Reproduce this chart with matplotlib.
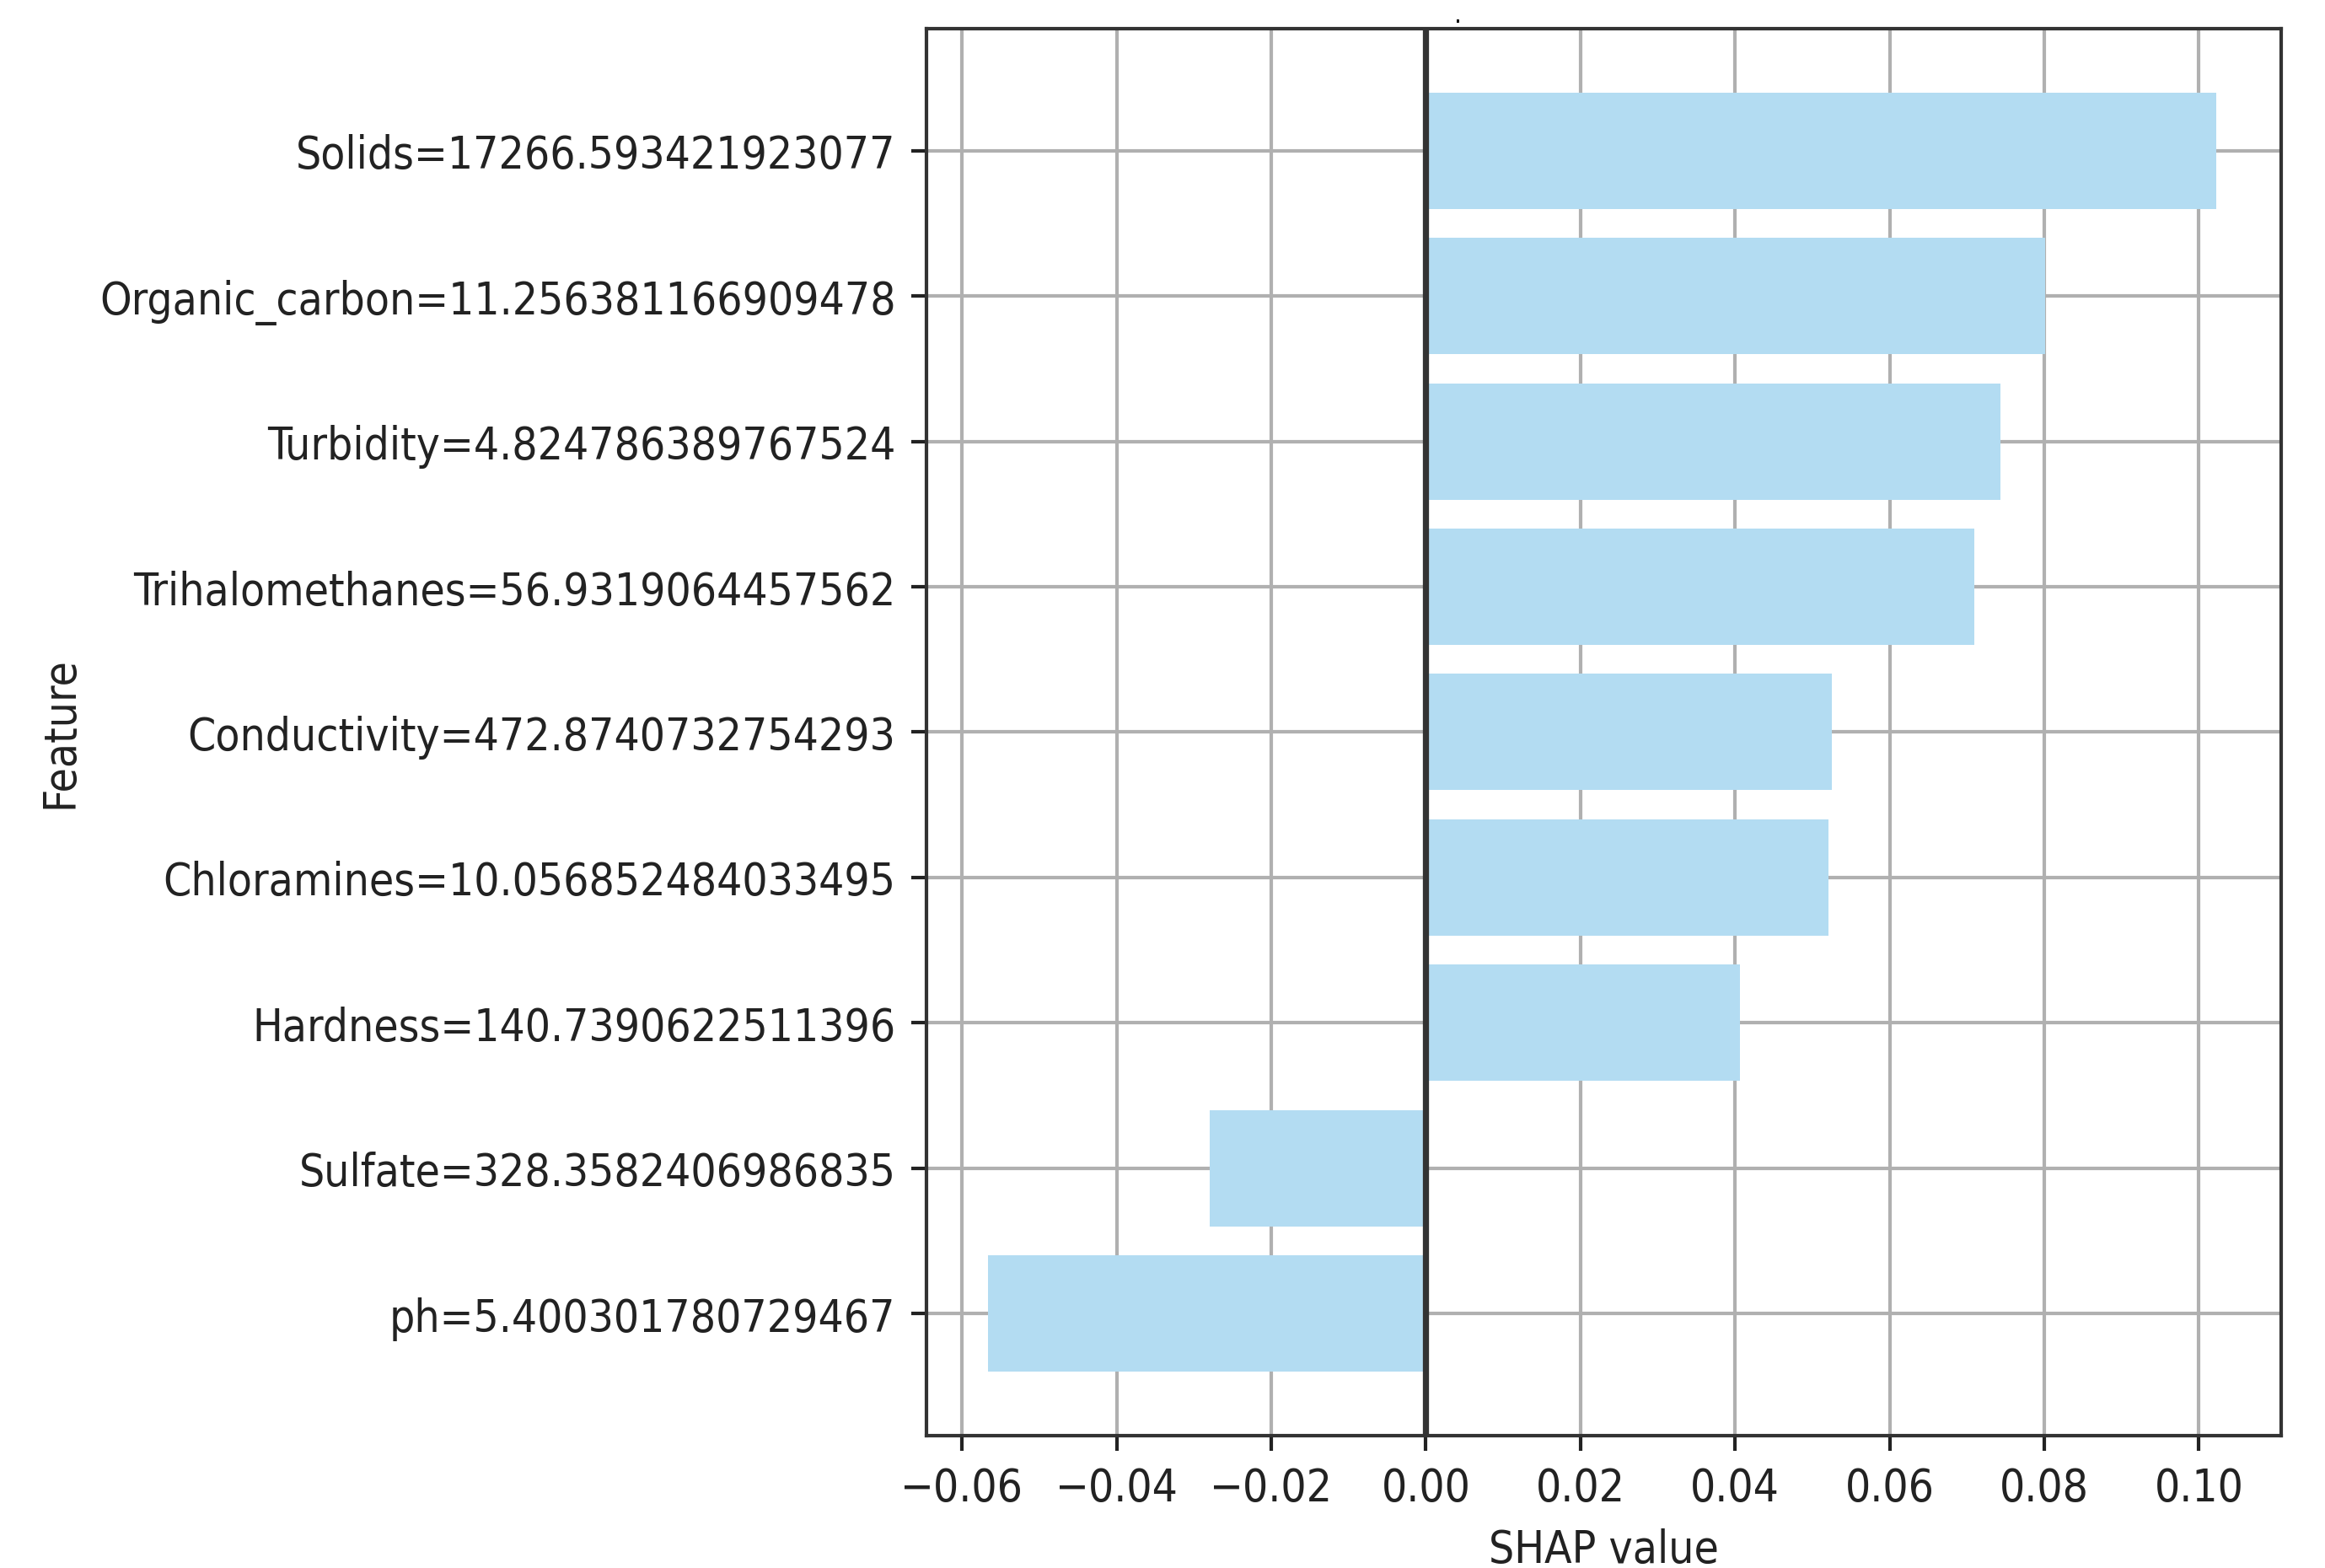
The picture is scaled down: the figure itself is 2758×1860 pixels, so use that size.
import matplotlib
matplotlib.use("Agg")
import matplotlib.pyplot as plt
from matplotlib import font_manager

features = [
    "Solids=17266.593421923077",
    "Organic_carbon=11.256381166909478",
    "Turbidity=4.824786389767524",
    "Trihalomethanes=56.9319064457562",
    "Conductivity=472.8740732754293",
    "Chloramines=10.056852484033495",
    "Hardness=140.7390622511396",
    "Sulfate=328.3582406986835",
    "ph=5.400301780729467",
]
shap_values = [0.1022, 0.0801, 0.0743, 0.0709, 0.0525, 0.0521, 0.0406, -0.0280, -0.0567]
xticks = [-0.06, -0.04, -0.02, 0.0, 0.02, 0.04, 0.06, 0.08, 0.10]

condensed = [f for f in font_manager.fontManager.ttflist
             if f.name == "DejaVu Sans" and f.stretch in ("condensed", 300, "semi-condensed")
             and f.weight in ("normal", 400) and f.style == "normal"]
plt.rcParams['font.family'] = ['DejaVu Sans']
if condensed:
    plt.rcParams['font.stretch'] = 'condensed'
    fs = 10.2
else:
    fs = 9.3

fig = plt.figure(figsize=(2758 / 375, 1861 / 375), dpi=375)
ax = fig.add_axes([0.3985, 0.0844, 0.5825, 0.8968])

pos = list(range(len(features)))
ax.barh(pos, shap_values, height=0.8, color="#b3dcf2", zorder=2)
ax.axvline(0, color="#333333", lw=1.4, zorder=3)
ax.set_yticks(pos)
ax.set_yticklabels(features, fontsize=fs, color="#222222")
ax.invert_yaxis()
ax.set_axisbelow(True)
ax.grid(True, color="#b0b0b0", lw=0.8)
ax.set_xticks(xticks)
ax.set_xlim(-0.0646, 0.1106)
ax.tick_params(labelsize=fs, colors="#222222")
for s in ax.spines.values():
    s.set_color("#333333")
ax.set_xlabel("SHAP value", fontsize=fs, color="#222222")
ax.set_ylabel("Feature", fontsize=fs, color="#222222", labelpad=4)
fig.text(0.627, 0.99, ".", fontsize=6, ha="center", va="center")

fig.savefig("out.png", dpi=375)
